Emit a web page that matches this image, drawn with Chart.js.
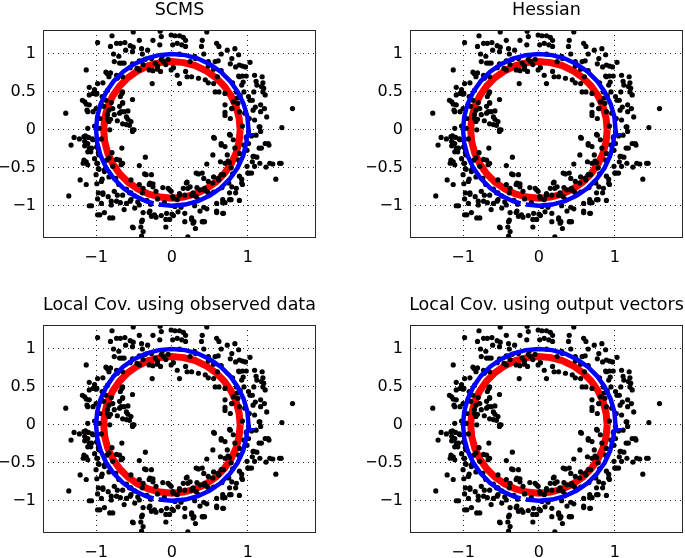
<!DOCTYPE html>
<html>
<head>
<meta charset="utf-8">
<script src="https://cdn.jsdelivr.net/npm/chart.js@4/dist/chart.umd.min.js"></script>
<style>
html,body{margin:0;padding:0;background:#fff;width:685px;height:558px;overflow:hidden;position:relative;}
canvas{position:absolute;}
</style>
</head>
<body>
<canvas id="c0" width="320" height="266" style="left:0px;top:0px;width:320px;height:266px"></canvas>
<canvas id="c1" width="320" height="266" style="left:367px;top:0px;width:320px;height:266px"></canvas>
<canvas id="c2" width="320" height="266" style="left:0px;top:295px;width:320px;height:266px"></canvas>
<canvas id="c3" width="320" height="266" style="left:367px;top:295px;width:320px;height:266px"></canvas>
<script>
const titles = ["SCMS", "Hessian", "Local Cov. using observed data", "Local Cov. using output vectors"];
const xTicks = [-1, 0, 1];
const yTicks = [-1, -0.5, 0, 0.5, 1];
const xRange = [-1.70, 1.90];
const yRange = [-1.425, 1.316];

const dots = [
[-0.79,1.24],[-0.51,1.29],[-0.155,1.30],[-0.98,1.15],[-0.73,1.14],[-0.68,1.14],[-0.62,1.15],[-0.55,1.11],[-0.51,1.09],[-0.43,1.18],
[-0.81,1.10],[-0.61,1.05],[-0.52,1.03],[-0.40,1.07],[-0.32,1.05],[-0.25,1.18],[-0.16,1.12],[-0.14,1.23],[-0.01,1.25],[0.01,1.12],
[-0.77,1.0],[-0.70,0.97],[-0.76,0.90],[-0.66,0.88],[-0.63,0.88],[-0.52,0.87],[-0.43,0.91],[-0.38,0.86],[-0.46,0.81],[-0.30,0.79],
[-0.25,0.78],[-0.19,0.84],[-0.15,0.77],[-0.22,0.88],[-1.13,0.79],[-0.81,0.75],[-0.83,0.70],[-0.91,0.62],[-0.98,0.61],[-1.09,0.56],
[-1.02,0.53],[-1.04,0.48],[-1.0,0.47],[-1.09,0.46],[-1.18,0.39],[-1.15,0.37],[-1.13,0.34],[-1.09,0.33],[-1.12,0.26],[-1.40,0.22],
[-0.87,0.39],[-0.80,0.36],[-0.68,0.44],[-0.65,0.36],[-0.78,0.28],[-0.69,0.31],[-0.58,0.25],[-0.60,0.17],[-0.85,0.20],[-0.81,0.14],
[-0.72,0.12],[-0.58,0.14],[-0.56,0.06],[-0.65,0.08],[-1.11,0.02],[-0.96,0.02],[-0.82,0.0],[-0.52,0.0],[-0.26,0.61],[-0.01,0.79],
[-0.65,0.70],[-0.92,0.44],[-0.90,0.31],[-1.0,0.28],[-1.04,0.24],[-0.67,0.24],[-0.66,0.48],[-0.52,0.40],[-0.39,1.0],[-0.11,0.90],
[-0.08,0.86],[-0.27,0.94],[-0.19,0.80],[-0.14,0.93],[-0.05,0.93],
[0.04,1.24],[0.10,1.24],[0.15,1.22],[0.18,1.18],[0.46,1.29],[0.07,1.14],[0.13,1.12],[0.18,1.10],[0.40,1.18],[0.39,1.10],
[0.59,1.14],[0.62,1.10],[0.73,1.05],[0.83,1.07],[0.65,1.0],[0.61,0.91],[0.57,0.90],[0.79,0.94],[0.88,0.99],[0.77,0.87],
[0.84,0.83],[0.93,0.84],[0.97,0.83],[1.03,0.89],[0.88,0.71],[0.93,0.71],[0.98,0.71],[1.11,0.64],[1.12,0.59],[1.19,0.70],
[1.20,0.62],[1.21,0.55],[1.23,0.46],[1.17,0.33],[1.10,0.30],[1.06,0.39],[1.03,0.39],[1.25,0.17],[1.59,0.28],[1.45,0.03],
[1.15,0.04],[0.18,0.77],[0.20,0.70],[0.26,0.70],[0.35,0.68],[0.44,0.66],[0.48,0.62],[0.55,0.61],[0.57,0.50],[0.62,0.50],
[0.70,0.48],[0.70,0.33],[0.79,0.28],[0.70,0.23],[0.77,0.15],[0.81,0.37],[0.86,0.42],[0.87,0.35],[0.89,0.24],[0.02,0.82],
[0.07,0.72],[0.10,0.61],[0.42,1.0],[0.24,0.90],[0.31,0.94],[1.01,0.44],[1.08,0.50],[1.17,0.24],[0.95,0.50],[0.92,0.59],
[0.48,0.84],[0.55,0.80],
[-1.29,-0.10],[-1.22,-0.12],[-1.33,-0.20],[-1.14,-0.08],[-1.10,-0.10],[-1.14,-0.17],[-1.11,-0.18],[-1.09,-0.24],[-1.07,-0.29],[-1.17,-0.44],
[-1.13,-0.42],[-1.11,-0.46],[-1.21,-0.66],[-1.13,-0.72],[-1.36,-0.87],[-0.98,-0.44],[-0.96,-0.52],[-0.99,-0.71],[-0.89,-0.55],[-0.79,-0.30],
[-0.73,-0.39],[-0.66,-0.24],[-0.52,-0.02],[-0.67,-0.46],[-0.76,-0.81],[-0.91,-0.83],[-0.98,-0.91],[-1.09,-1.0],[-0.80,-0.94],[-0.68,-0.96],
[-0.63,-1.05],[-0.55,-0.94],[-0.95,-1.12],[-0.82,-1.16],[-0.78,-1.16],[-0.52,-1.28],[-0.41,-1.28],[-0.40,-1.40],[-0.39,-1.19],[-0.30,-1.09],
[-0.21,-1.15],[-0.14,-1.13],[-0.08,-1.18],[-0.08,-1.28],[0.0,-1.11],[-0.43,-0.47],[-0.36,-0.58],[-0.27,-0.59],[-0.25,-0.71],[-0.30,-0.72],
[-0.21,-0.81],[-0.12,-0.76],[-0.05,-0.77],[-0.01,-0.81],[-0.39,-0.83],[-0.49,-0.87],[-0.54,-0.83],[-0.19,-0.91],[-0.33,-0.93],[-0.99,-0.23],
[-0.96,-0.33],[-1.15,-0.21],[-1.0,-0.59],[-0.35,-0.36],
[0.55,-0.10],[0.77,-0.07],[0.81,-0.13],[0.65,-0.18],[0.70,-0.22],[0.54,-0.33],[0.73,-0.33],[0.64,-0.42],[0.70,-0.44],[0.76,-0.43],
[0.46,-0.45],[0.40,-0.57],[0.35,-0.58],[0.42,-0.64],[0.48,-0.68],[0.55,-0.62],[0.62,-0.66],[0.68,-0.59],[0.20,-0.69],[0.24,-0.75],
[0.15,-0.77],[0.33,-0.76],[0.42,-0.79],[0.46,-0.81],[0.10,-0.84],[0.17,-0.86],[0.26,-0.86],[0.32,-0.88],[0.02,-0.90],[0.07,-0.92],
[0.30,-1.0],[0.42,-1.02],[0.46,-1.04],[0.59,-1.09],[0.68,-1.10],[0.70,-0.96],[0.78,-0.92],[0.89,-0.93],[0.79,-0.75],[0.92,-0.65],
[0.93,-0.72],[0.99,-0.48],[1.05,-0.57],[1.06,-0.42],[1.08,-0.35],[1.12,-0.36],[1.15,-0.24],[1.23,-0.18],[1.28,-0.20],[1.33,-0.45],
[1.44,-0.44],[1.37,-0.65],[1.24,-0.49],[1.01,-0.02],[1.05,-0.08],[1.17,-0.02],[0.02,-1.13],[0.17,-1.21],[0.26,-1.16],[0.29,-1.21],
[0.31,-1.30],[0.40,-1.21],[0.21,-1.41],[0.84,-0.83],[0.99,-0.27],[1.01,-0.18],
[-0.95,0.15],[-0.93,-0.12],[-0.97,-0.30],[-0.86,-0.40],[-0.83,-0.62],[-0.70,-0.72],[-0.60,-0.78],[-0.45,-0.95],[-0.28,-0.98],[-0.10,-0.96],
[0.12,-1.02],[0.35,-0.92],[0.55,-0.82],[0.66,-0.76],[0.80,-0.58],[0.88,-0.40],[0.95,-0.20],[0.93,0.05],[0.96,0.22],[0.90,0.45],
[0.80,0.62],[0.65,0.78],[0.48,0.90],[0.30,0.97],[0.10,1.0],[-0.12,0.98],[-0.35,0.93],[-0.55,0.82],[-0.72,0.68],[-0.85,0.52],
[-0.93,0.33],[-1.02,0.05],[-1.05,-0.12],[-1.02,-0.38],[-0.92,-0.65],[-0.72,-0.86],[0.60,0.70],[0.75,-0.70],[1.02,0.15],[0.98,-0.10],
[-0.87,0.76],[-0.85,0.74],[-0.99,0.48],[-1.11,0.24],[-0.83,0.26],[-0.76,0.20],[-0.69,0.22],[-0.85,0.15],[-0.83,0.11],[-1.16,-0.09],
[-1.15,-0.15],[-1.04,-0.13],[-1.06,-0.24],[-1.11,-0.29],[-0.99,-0.22],[-1.16,-0.40],[-0.99,-0.44],[-0.97,-0.51],[-0.89,-0.53],[-0.78,-0.48],
[-0.83,-0.37],[-0.69,-0.40],[-0.65,-0.44],[-0.74,-0.64],[-0.54,-0.66],[-0.97,-0.83],[-0.84,-0.88],[-0.65,-0.86],[-0.56,-0.83],[-0.63,0.24],
[-0.69,0.88],[-0.73,0.72],[-0.65,0.35],[-0.54,0.11],[-0.60,0.07],[-0.50,0.0],[-0.43,0.79],[-0.65,0.50],
[-0.93,-0.68],[-0.91,-0.85],[-0.93,-0.97],[-0.89,-1.09],[-0.98,-1.12],[-0.80,-0.99],[-0.73,-0.94],[-0.60,-0.97],[-0.54,-0.92],[-0.49,-1.03],
[-0.43,-0.99],[-0.38,-1.09],[-0.29,-1.07],[-0.27,-1.14],[-0.23,-1.12],[-0.07,-1.10],[-0.03,-1.18],[-0.40,-1.21],[-0.51,-1.29],[-0.38,-1.34],
[-0.34,-0.59],[-0.43,-0.72],[-0.38,-0.77],[-0.29,-0.70],[-0.25,-0.75],[-0.03,-0.79],[0.01,-0.88],[0.10,-0.86],[0.19,-0.70],[0.21,-0.77],
[0.28,-0.83],[0.32,-0.57],[0.37,-0.79],[0.43,-0.77],[0.48,-0.83],[0.54,-0.70],[0.61,-0.64],[0.65,-0.59],[0.59,-0.97],[0.67,-0.92],
[0.67,-1.10],[0.76,-0.83],[0.85,-0.77],[0.89,-0.61],[1.00,-0.57],[0.17,-1.10],[0.26,-1.18],[0.28,-1.23],[0.41,-1.21],[0.37,-1.07],
[0.04,-1.01],[0.08,-1.08],[-1.06,-1.0],
[0.89,0.855],[1.09,0.72],[1.18,0.57],[1.20,0.50],[1.22,0.28],[1.07,0.26],[1.09,0.13],[1.16,0.04],[1.11,-0.07],[1.18,-0.24],
[1.27,-0.18],[1.07,-0.35],[1.09,-0.48],[1.16,-0.44],[1.29,-0.44],[1.42,-0.44],[1.02,-0.57],[0.92,-0.70],[0.76,-0.92],[0.67,-0.96],
[0.59,-1.07],[0.43,-1.21],[0.89,0.70],[0.94,0.63],[0.85,0.50],[0.79,0.28],[0.70,0.19],[0.76,-0.06],[0.56,-0.11],[0.65,-0.20],
[0.74,-0.41],[0.78,-0.50],[0.89,-0.31],[0.83,-0.24]
];

// true curve (blue), open arc with a small gap at the bottom-left
const blueCurve = [
[-0.174,-0.985],[0,-1],[0.174,-0.985],[0.342,-0.940],[0.5,-0.866],[0.643,-0.766],[0.766,-0.643],[0.866,-0.5],[0.940,-0.342],
[0.980,-0.173],[0.985,-0.086],[1.013,-0.070],[1.010,0],[0.995,0.175],[0.945,0.343],[0.868,0.5],[0.767,0.643],[0.643,0.766],
[0.5,0.866],[0.342,0.940],[0.174,0.985],[0,1],[-0.174,0.985],[-0.342,0.940],[-0.5,0.866],[-0.643,0.766],[-0.766,0.643],
[-0.866,0.5],[-0.940,0.342],[-0.985,0.174],[-1,0],[-0.985,-0.174],[-0.940,-0.342],[-0.866,-0.5],[-0.766,-0.643],
[-0.643,-0.766],[-0.5,-0.866],[-0.342,-0.940],[-0.242,-0.970]
];

// estimated ridge (red)
const redCurve = [
[0.9,0],[0.886,0.156],[0.846,0.308],[0.779,0.45],[0.689,0.579],[0.579,0.689],[0.45,0.779],[0.308,0.846],[0.156,0.886],
[0,0.9],[-0.156,0.886],[-0.308,0.846],[-0.45,0.779],[-0.579,0.689],[-0.689,0.579],[-0.779,0.45],[-0.846,0.308],[-0.886,0.156],
[-0.9,0],[-0.886,-0.156],[-0.846,-0.308],[-0.779,-0.45],[-0.689,-0.579],[-0.579,-0.689],[-0.45,-0.779],[-0.308,-0.846],[-0.156,-0.886],
[0,-0.9],[0.156,-0.886],[0.308,-0.846],[0.45,-0.779],[0.579,-0.689],[0.689,-0.579],[0.779,-0.45],[0.846,-0.308],[0.886,-0.156],[0.9,0]
];

Chart.defaults.font.family = "'DejaVu Sans', sans-serif";
Chart.defaults.color = '#000';

const toXY = a => a.map(p => ({x: p[0], y: p[1]}));
const fmt = v => (v < 0 ? '\u2212' + String(-v) : String(v));

function makeChart(id, title) {
  const boxTitle = {
    id: 'boxTitle',
    afterDraw(chart) {
      const {ctx, chartArea: a} = chart;
      ctx.save();
      ctx.strokeStyle = '#262626';
      ctx.lineWidth = 1;
      ctx.strokeRect(Math.round(a.left) + 0.5, Math.round(a.top) + 0.5, Math.round(a.right - a.left) - 1, Math.round(a.bottom - a.top) - 1);
      ctx.fillStyle = '#000';
      ctx.font = "17.5px 'DejaVu Sans'";
      ctx.textAlign = 'center';
      ctx.textBaseline = 'alphabetic';
      ctx.fillText(title, (a.left + a.right) / 2, a.top - 15.5);
      ctx.restore();
    }
  };
  return new Chart(document.getElementById(id), {
    type: 'scatter',
    data: {
      datasets: [
        {data: toXY(blueCurve), showLine: true, borderColor: 'rgb(0,0,255)', borderWidth: 4.5, pointRadius: 0, order: 0, clip: 0},
        {data: toXY(dots), showLine: false, backgroundColor: '#000', borderColor: '#000', borderWidth: 0, pointRadius: 2.6, order: 1, clip: 0},
        {data: toXY(redCurve), showLine: true, borderColor: 'rgb(255,0,0)', borderWidth: 7, pointRadius: 0, order: 2, clip: 0}
      ]
    },
    options: {
      responsive: false,
      animation: false,
      devicePixelRatio: 1,
      layout: {padding: {top: 30, right: 4, left: 0, bottom: 0}},
      plugins: {legend: {display: false}, tooltip: {enabled: false}, title: {display: false}},
      scales: {
        x: {
          type: 'linear', min: xRange[0], max: xRange[1],
          afterBuildTicks: s => { s.ticks = xTicks.map(v => ({value: v})); },
          afterFit: s => { s.height = 28; },
          grid: {color: 'rgba(0,0,0,0.85)', lineWidth: 1, drawTicks: false},
          border: {display: false, dash: [1, 4]},
          ticks: {padding: 10, font: {size: 16}, color: '#000', callback: v => fmt(v), maxRotation: 0, autoSkip: false}
        },
        y: {
          type: 'linear', min: yRange[0], max: yRange[1],
          afterBuildTicks: s => { s.ticks = yTicks.map(v => ({value: v})); },
          afterFit: s => { s.width = 43; },
          grid: {color: 'rgba(0,0,0,0.85)', lineWidth: 1, drawTicks: false},
          border: {display: false, dash: [1, 4]},
          ticks: {padding: 7, font: {size: 16}, color: '#000', callback: v => fmt(v), autoSkip: false}
        }
      }
    },
    plugins: [boxTitle]
  });
}

titles.forEach((t, i) => makeChart('c' + i, t));
</script>
</body>
</html>
